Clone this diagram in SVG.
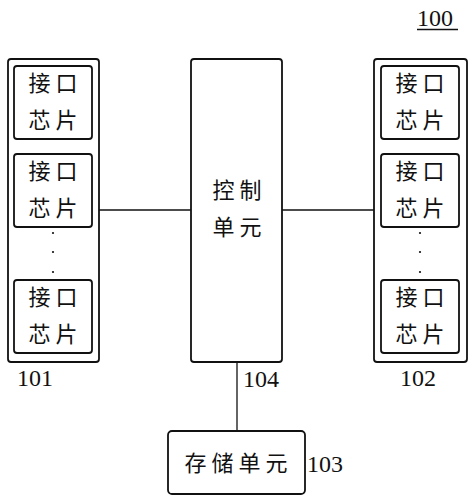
<svg xmlns="http://www.w3.org/2000/svg" width="474" height="502" viewBox="0 0 474 502">
<style>
.box{fill:#fff;stroke:#111;stroke-width:1.8}
.cn{font-family:'Noto Sans CJK SC','Noto Sans CJK JP',sans-serif;font-size:22px;fill:#111;text-anchor:middle;letter-spacing:5px}
.num{font-family:'Times New Roman','Liberation Serif','DejaVu Serif',serif;font-size:24px;fill:#111}
.ln{stroke:#111;stroke-width:1.3;fill:none}
.dot{fill:#111}
</style>
<rect width="474" height="502" fill="#fff"/>
<g id="label100">
<text class="num" x="417" y="26">100</text>
<line x1="417" y1="29.5" x2="458" y2="29.5" stroke="#111" stroke-width="1.3"/>
</g>
<g id="connectors">
<line class="ln" x1="99" y1="210" x2="191" y2="210"/>
<line class="ln" x1="282" y1="210" x2="374" y2="210"/>
<line class="ln" x1="237" y1="362" x2="237" y2="431" stroke-width="1.6"/>
</g>
<g id="group101">
<rect class="box" x="8" y="59" width="91" height="303" rx="3"/>
<rect class="box" x="14" y="66" width="78" height="73" rx="3"/>
<text class="cn" x="55.5" y="91">接口</text>
<text class="cn" x="55.5" y="128">芯片</text>
<rect class="box" x="14" y="154" width="78" height="73" rx="3"/>
<text class="cn" x="55.5" y="179">接口</text>
<text class="cn" x="55.5" y="216">芯片</text>
<circle class="dot" cx="53" cy="233" r="1.1"/>
<circle class="dot" cx="53" cy="252" r="1.1"/>
<circle class="dot" cx="53" cy="272" r="1.1"/>
<rect class="box" x="14" y="280" width="78" height="73" rx="3"/>
<text class="cn" x="55.5" y="305">接口</text>
<text class="cn" x="55.5" y="342">芯片</text>
<text class="num" x="17" y="386">101</text>
</g>
<g id="group102">
<rect class="box" x="374" y="59" width="93" height="303" rx="3"/>
<rect class="box" x="381" y="66" width="78" height="73" rx="3"/>
<text class="cn" x="422.5" y="91">接口</text>
<text class="cn" x="422.5" y="128">芯片</text>
<rect class="box" x="381" y="154" width="78" height="73" rx="3"/>
<text class="cn" x="422.5" y="179">接口</text>
<text class="cn" x="422.5" y="216">芯片</text>
<circle class="dot" cx="420" cy="233" r="1.1"/>
<circle class="dot" cx="420" cy="252" r="1.1"/>
<circle class="dot" cx="420" cy="272" r="1.1"/>
<rect class="box" x="381" y="280" width="78" height="73" rx="3"/>
<text class="cn" x="422.5" y="305">接口</text>
<text class="cn" x="422.5" y="342">芯片</text>
<text class="num" x="400" y="386">102</text>
</g>
<g id="control104">
<rect class="box" x="191" y="59" width="91" height="303" rx="3"/>
<text class="cn" x="239.5" y="198">控制</text>
<text class="cn" x="239.5" y="235">单元</text>
<text class="num" x="243" y="387">104</text>
</g>
<g id="storage103">
<rect class="box" x="168" y="431" width="137" height="63" rx="4"/>
<text class="cn" x="238.5" y="471">存储单元</text>
<text class="num" x="307" y="472">103</text>
</g>
</svg>
